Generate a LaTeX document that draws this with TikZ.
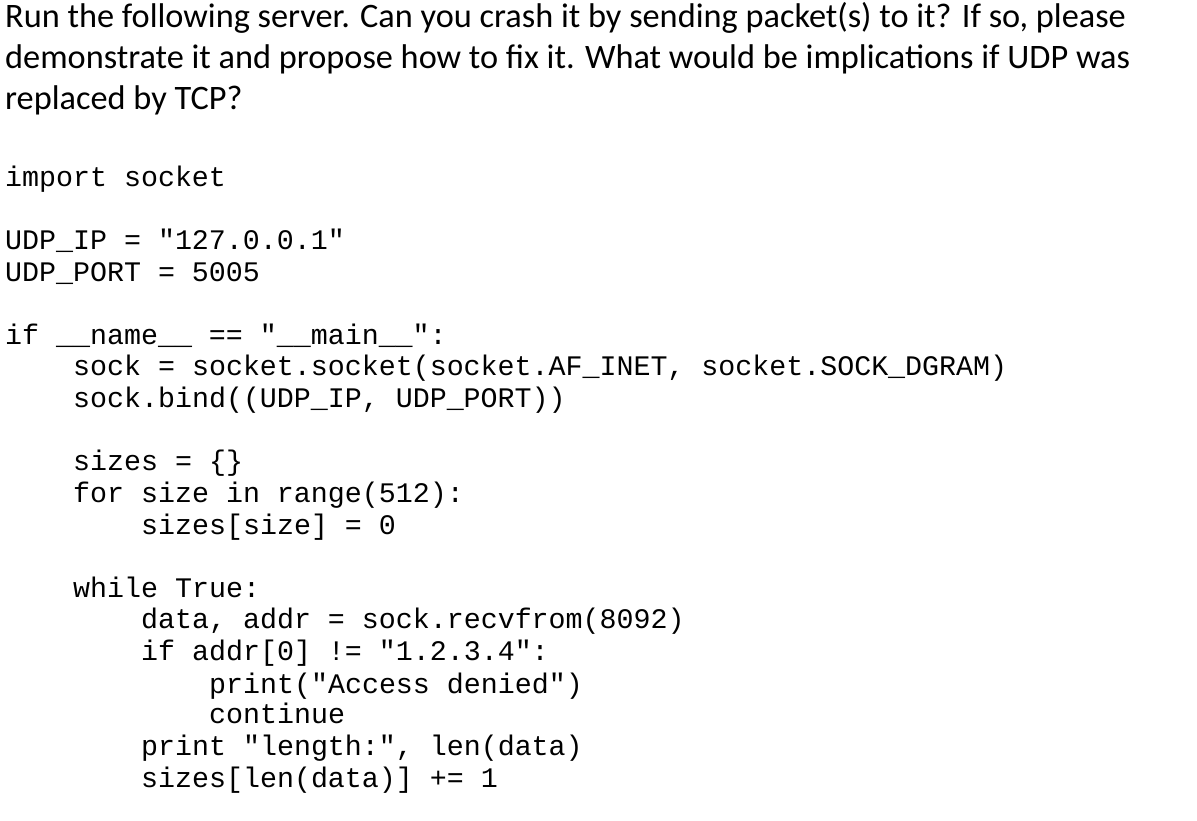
\documentclass[tikz,border=0pt]{standalone}
\usepackage{fontspec}
\setmainfont{Carlito}
\setmonofont{Liberation Mono}
\tikzset{
  prose/.style={anchor=base west, inner sep=0pt, font=\fontsize{34.3}{40}\selectfont},
  code/.style={anchor=base west, inner sep=0pt, font=\fontsize{28.3}{32}\ttfamily}
}
\begin{document}
\begin{tikzpicture}[x=1pt, y=-1pt]
\useasboundingbox[fill=white] (0,0) rectangle (1197,821);
% question
\node[prose] (q1) at (5,28) {Run the following server. Can you crash it by sending packet(s) to it? If so, please};
\node[prose] (q2) at (5,69) {demonstrate it and propose how to fix it. What would be implications if UDP was};
\node[prose] (q3) at (5,110) {replaced by TCP?};
% code
\node[code] (l1) at (5,187) {import socket};
\node[code] (l2) at (5,250) {UDP\_IP = "127.0.0.1"};
\node[code] (l3) at (5,281) {UDP\_PORT = 5005};
\node[code] (l4) at (5,344) {if \_\_name\_\_ == "\_\_main\_\_":};
\node[code] (l5) at (73,375) {sock = socket.socket(socket.AF\_INET, socket.SOCK\_DGRAM)};
\node[code] (l6) at (73,407) {sock.bind((UDP\_IP, UDP\_PORT))};
\node[code] (l7) at (73,470) {sizes = \{\}};
\node[code] (l8) at (73,502) {for size in range(512):};
\node[code] (l9) at (141,534) {sizes[size] = 0};
\node[code] (l10) at (73,597) {while True:};
\node[code] (l11) at (141,628) {data, addr = sock.recvfrom(8092)};
\node[code] (l12) at (141,660) {if addr[0] != "1.2.3.4":};
\node[code] (l13) at (209,693) {print("Access denied")};
\node[code] (l14) at (209,723) {continue};
\node[code] (l15) at (141,755) {print "length:", len(data)};
\node[code] (l16) at (141,787) {sizes[len(data)] += 1};
\end{tikzpicture}
\end{document}
